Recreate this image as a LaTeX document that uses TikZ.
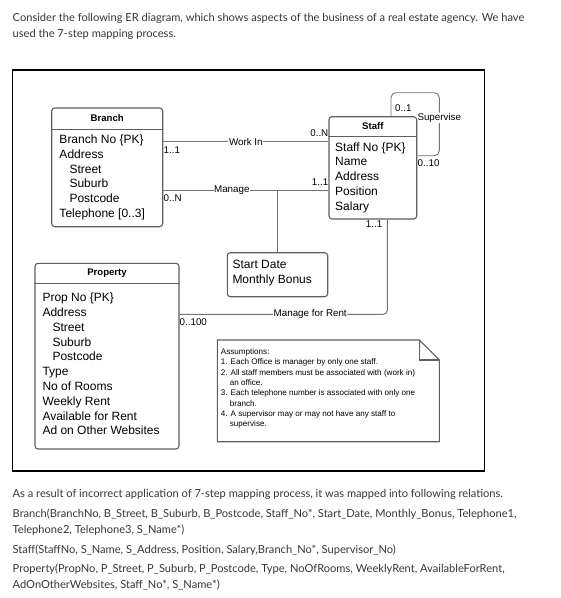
\documentclass[tikz,border=0pt]{standalone}
\usepackage{fontspec}
\setmainfont{Lato}
\newfontfamily\diafont{Liberation Sans}
\usetikzlibrary{positioning}
\definecolor{pagetext}{RGB}{55,55,55}
\definecolor{boxline}{RGB}{95,95,95}
\definecolor{linkgray}{RGB}{115,115,115}

\begin{document}
\begin{tikzpicture}[x=1pt, y=-1pt,
  entity/.style={draw=boxline, line width=1.1pt, rounded corners=3pt, inner sep=0pt},
  title/.style={font=\diafont\fontsize{9.6}{11}\selectfont\bfseries, inner sep=0pt},
  attrs/.style={font=\diafont\fontsize{12}{14.8}\selectfont, align=left, anchor=north west, inner sep=0pt},
  link/.style={draw=linkgray, line width=0.9pt},
  rel/.style={font=\diafont\fontsize{9.8}{11}\selectfont, fill=white, inner sep=0.6pt},
  card/.style={font=\diafont\fontsize{9.8}{11}\selectfont, inner sep=0pt},
  para/.style={font=\fontsize{11.1}{16}\selectfont, text=pagetext, anchor=west, inner sep=0pt}]

\useasboundingbox[fill=white] (0,0) rectangle (561,598);

% page text above the diagram
\node[para] (intro1) at (12.5,18) {Consider the following ER diagram, which shows aspects of the business of a real estate agency. We have};
\node[para] (intro2) at (12.5,34) {used the 7-step mapping process.};

% frame of the diagram
\draw[black, line width=1.6pt] (12.5,70) rectangle (484.5,471);

% entities
\node[entity, minimum width=111pt, minimum height=118.7pt] (branch) at (107.2,167.35) {};
\draw[boxline, line width=1.1pt] (branch.west |- 0,129.3) -- (branch.east |- 0,129.3);
\node[title] (branchtitle) at (107.2,118.5) {Branch};
\node[attrs] (branchattrs) at (59.3,134.5) {Branch No \{PK\}\\Address\\\hspace*{10pt}Street\\\hspace*{10pt}Suburb\\\hspace*{10pt}Postcode\\Telephone [0..3]};

\node[entity, minimum width=87.7pt, minimum height=102.3pt] (staff) at (372.85,167.85) {};
\draw[boxline, line width=1.1pt] (staff.west |- 0,136.7) -- (staff.east |- 0,136.7);
\node[title] (stafftitle) at (372.85,126) {Staff};
\node[attrs] (staffattrs) at (335,142.2) {Staff No \{PK\}\\Name\\Address\\Position\\Salary};

\node[entity, minimum width=144pt, minimum height=185.7pt] (property) at (107,356.15) {};
\draw[boxline, line width=1.1pt] (property.west |- 0,283.3) -- (property.east |- 0,283.3);
\node[title] (propertytitle) at (107,273.2) {Property};
\node[attrs] (propertyattrs) at (42.3,292.8) {Prop No \{PK\}\\Address\\\hspace*{10pt}Street\\\hspace*{10pt}Suburb\\\hspace*{10pt}Postcode\\Type\\No of Rooms\\Weekly Rent\\Available for Rent\\Ad on Other Websites};

% attributes of Manage
\node[entity, minimum width=100.4pt, minimum height=44pt] (bonus) at (277.5,274.7) {};
\node[attrs] (bonusattrs) at (232.3,260.2) {Start Date\\Monthly Bonus};

% relationships
\draw[link] (branch.east |- 0,141.7) -- node[rel] (workin) {Work In} (staff.west |- 0,141.7);
\draw[link] (branch.east |- 0,190) -- node[rel, pos=0.415] (manage) {Manage} (staff.west |- 0,190);
\coordinate (managejoin) at (277.5,190);
\draw[link] (managejoin) -- (bonus.north);
\draw[link, rounded corners=4pt] (staff.south -| 387.3,0) -- (387.3,314.3)
  -- node[rel, pos=0.371] (manageforrent) {Manage for Rent} (property.east |- 0,314.3);
\draw[link, rounded corners=5pt] (staff.north -| 391,0) -- (391,92.7) -- (439.3,92.7)
  -- node[rel, pos=0.4] (supervise) {Supervise} (439.3,155.7) -- (staff.east |- 0,155.7);

% cardinalities
\node[card, anchor=west] (c1) at (163.5,150) {1..1};
\node[card, anchor=west] (c2) at (163.5,198) {0..N};
\node[card, anchor=east] (c3) at (328.5,133) {0..N};
\node[card, anchor=east] (c4) at (328.5,181.7) {1..1};
\node[card, anchor=east] (c5) at (382.5,224) {1..1};
\node[card, anchor=west] (c6) at (395,108) {0..1};
\node[card, anchor=west] (c7) at (417.5,163) {0..10};
\node[card, anchor=west] (c8) at (179.5,322) {0..100};

% assumptions note
\draw[boxline, line width=1.1pt] (217.3,340) -- (419.3,340) -- (439.3,360) -- (439.3,441.7) -- (217.3,441.7) -- cycle;
\draw[boxline, line width=1.1pt] (419.3,340) -- (419.3,360) -- (439.3,360);
\node[attrs, font=\diafont\fontsize{8.1}{10.3}\selectfont] (assumptions) at (220.7,348.5) {Assumptions:\\1. Each Office is manager by only one staff.\\2. All staff members must be associated with (work in)\\\hspace*{9pt}an office.\\3. Each telephone number is associated with only one\\\hspace*{9pt}branch.\\4. A supervisor may or may not have any staff to\\\hspace*{9pt}supervise.};

% page text below the diagram
\node[para] (result) at (12.5,494) {As a result of incorrect application of 7-step mapping process, it was mapped into following relations.};
\node[para] (relbranch1) at (12.5,514) {Branch(BranchNo, B\_Street, B\_Suburb, B\_Postcode, Staff\_No*, Start\_Date, Monthly\_Bonus, Telephone1,};
\node[para] (relbranch2) at (12.5,530) {Telephone2, Telephone3, S\_Name*)};
\node[para] (relstaff) at (12.5,550) {Staff(StaffNo, S\_Name, S\_Address, Position, Salary,Branch\_No*, Supervisor\_No)};
\node[para] (relprop1) at (12.5,569) {Property(PropNo, P\_Street, P\_Suburb, P\_Postcode, Type, NoOfRooms, WeeklyRent, AvailableForRent,};
\node[para] (relprop2) at (12.5,585) {AdOnOtherWebsites, Staff\_No*, S\_Name*)};

\end{tikzpicture}
\end{document}
